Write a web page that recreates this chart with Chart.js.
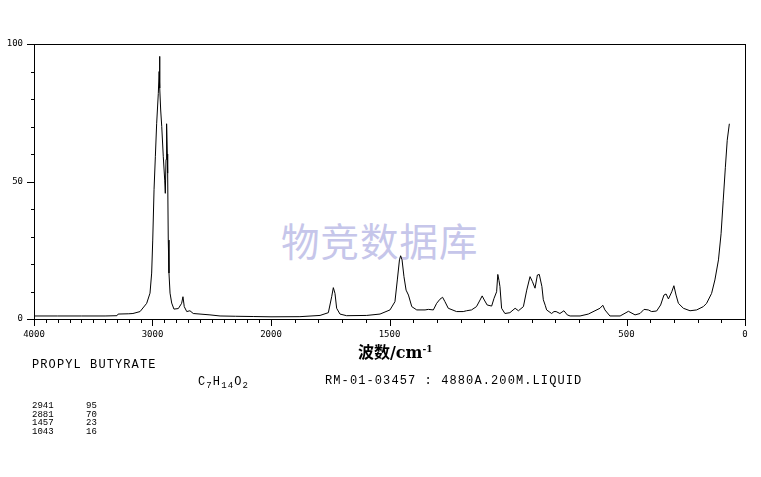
<!DOCTYPE html>
<html>
<head>
<meta charset="utf-8">
<script src="https://cdn.jsdelivr.net/npm/chart.js@4.4.1/dist/chart.umd.min.js"></script>
<style>
  html, body { margin: 0; padding: 0; background: #fff; }
  #wrap { position: relative; width: 761px; height: 477px; overflow: hidden; }
  #chart { position: absolute; left: 0; top: 0; z-index: 1; }
  .txt { position: absolute; z-index: 2; color: #000; white-space: pre; font-family: "Liberation Mono", "DejaVu Sans Mono", monospace; }
  #watermark { position: absolute; z-index: 0; left: 281px; top: 211px; font-family: "Noto Sans CJK SC", sans-serif; font-size: 38.5px; color: #c6c6ea; letter-spacing: 1px; }
  #xtitle { left: 358px; top: 339px; font-size: 16px; font-weight: bold; }
  #xtitle .cn { font-family: "Noto Sans CJK SC", sans-serif; }
  #xtitle .en { font-family: "DejaVu Serif", serif; }
  #xtitle sup { font-size: 9px; font-family: "DejaVu Serif", serif; }
  .big { font-size: 12px; letter-spacing: 1.1px; }
  .small { font-size: 9px; line-height: 8.6px; }
  sub { font-size: 9px; }
</style>
</head>
<body>
<div id="wrap">
  <div id="watermark">物竞数据库</div>
  <canvas id="chart" width="761" height="477"></canvas>
  <div class="txt" id="xtitle"><span class="cn">波数</span><span class="en">/cm</span><sup>-1</sup></div>
  <div class="txt big" style="left:32px; top:358px;">PROPYL BUTYRATE</div>
  <div class="txt big" style="left:198px; top:375px;">C<sub>7</sub>H<sub>14</sub>O<sub>2</sub></div>
  <div class="txt big" style="left:325px; top:374px;">RM-01-03457 : 4880A.200M.LIQUID</div>
  <div class="txt small" id="peaks" style="left:32px; top:402px;"></div>
</div>
<script>
// spectrum (wavenumber cm-1, intensity)
const wavenumbers = [
  4000, 3800, 3600, 3400, 3300, 3290, 3200, 3165, 3105, 3049, 3021, 3007, 2998, 2987, 2976, 2965, 2951, 2944, 2941, 2937,
  2931, 2922, 2909, 2897, 2892, 2886, 2881, 2875, 2872, 2867, 2861, 2852, 2838, 2819, 2782, 2754, 2743, 2732, 2711, 2684,
  2656, 2515, 2430, 2300, 2150, 2000, 1878, 1793, 1758, 1744, 1737, 1730, 1723, 1709, 1681, 1596, 1540, 1498, 1477, 1467,
  1458, 1453, 1447, 1439, 1430, 1420, 1406, 1385, 1350, 1336, 1315, 1301, 1287, 1276, 1266, 1252, 1217, 1189, 1175, 1154,
  1133, 1118, 1109, 1100, 1088, 1069, 1059, 1048, 1043, 1038, 1034, 1027, 1013, 992, 970, 956, 935, 921, 907, 897,
  886, 876, 868, 857, 851, 843, 837, 816, 806, 797, 781, 764, 750, 738, 696, 661, 633, 612, 600, 591,
  570, 527, 502, 492, 464, 443, 426, 408, 394, 373, 356, 342, 333, 323, 309, 300, 291, 281, 260, 232,
  204, 176, 162, 141, 127, 112, 101, 92, 83, 75, 66
];
const intensities = [
  1.1, 1.1, 1.1, 1.1, 1.2, 1.8, 1.9, 2.0, 2.7, 5.7, 9.4, 16.7, 28.7, 47, 59, 71, 82, 90, 95.5, 84,
  76, 70, 59, 50.5, 45.7, 58, 71, 60, 53, 28.7, 16.7, 9.4, 5.8, 3.6, 3.8, 5.7, 8.1, 4.5, 2.7, 3.0,
  2.0, 1.5, 1.1, 1.0, 0.9, 0.8, 0.85, 1.3, 2.3, 8.1, 11.4, 9.3, 3.9, 1.8, 1.2, 1.3, 1.8, 3.3, 6.3, 14.2,
  21.5, 23, 21.5, 15.4, 10.5, 8.7, 4.5, 3.3, 3.3, 3.5, 3.3, 5.7, 7.2, 7.9, 6.3, 3.9, 2.7, 2.7, 3.0, 3.3,
  4.5, 6.9, 8.4, 6.9, 5.1, 4.7, 7.5, 9.9, 16.2, 14, 11.8, 3.9, 2.0, 2.3, 3.9, 3.0, 4.5, 10.5, 15.4, 13.6,
  11.2, 16, 16.2, 11.8, 7, 5, 3.3, 2.0, 2.7, 2.7, 2.0, 3.0, 1.5, 1.1, 1.1, 1.8, 3.0, 3.9, 5.0, 3.3,
  1.1, 1.1, 2.3, 2.8, 1.5, 2.0, 3.5, 3.3, 2.7, 2.9, 5.1, 8.7, 9.1, 7.3, 9.9, 12.1, 8.7, 5.7, 3.9, 3.0,
  3.3, 4.5, 5.7, 9.3, 14.2, 21.5, 31, 43, 55, 65, 71
];
const xLabels = [4000, 3000, 2000, 1500, 500, 0];
const yLabels = [0, 50, 100];
const peakPos = [2941, 2881, 1457, 1043];
const peakVal = [95, 70, 23, 16];

// axis is compressed by half above 2000 cm-1
function toAxis(w) { return w <= 2000 ? w : 2000 + (w - 2000) / 2; }
function fromAxis(u) { return u <= 2000 ? u : 2000 + (u - 2000) * 2; }

document.getElementById("peaks").textContent = peakPos
  .map((p, i) => String(p).padEnd(10) + peakVal[i]).join("\n");

const points = wavenumbers.map((w, i) => ({ x: toAxis(w), y: intensities[i] }));

// box + tick marks (long ones at labelled values)
const frame = {
  id: "frame",
  afterDraw(chart) {
    const { ctx, chartArea: a, scales } = chart;
    ctx.save();
    ctx.strokeStyle = "#000";
    ctx.lineWidth = 1;
    ctx.strokeRect(Math.round(a.left) + 0.5, Math.round(a.top) + 0.5,
      Math.round(a.right - a.left), Math.round(a.bottom - a.top));
    ctx.beginPath();
    for (let w = 0; w <= 4000; w += 100) {
      const px = Math.round(scales.x.getPixelForValue(toAxis(w))) + 0.5;
      const len = xLabels.includes(w) ? 7 : 4;
      ctx.moveTo(px, Math.round(a.bottom));
      ctx.lineTo(px, Math.round(a.bottom) + len);
    }
    for (let v = 0; v <= 100; v += 10) {
      const py = Math.round(scales.y.getPixelForValue(v)) + 0.5;
      const len = yLabels.includes(v) ? 7 : 3;
      ctx.moveTo(Math.round(a.left), py);
      ctx.lineTo(Math.round(a.left) - len, py);
    }
    ctx.stroke();
    ctx.restore();
  }
};

new Chart(document.getElementById("chart"), {
  type: "scatter",
  data: {
    datasets: [{
      data: points,
      showLine: true,
      borderColor: "#000",
      borderWidth: 1,
      pointRadius: 0,
      tension: 0,
      fill: false
    }]
  },
  options: {
    responsive: false,
    animation: false,
    devicePixelRatio: 1,
    layout: { padding: { left: 0, top: 44, right: 16, bottom: 128 } },
    plugins: { legend: { display: false }, tooltip: { enabled: false } },
    scales: {
      x: {
        type: "linear",
        reverse: true,
        min: 0,
        max: 3000,
        grid: { display: false },
        border: { display: false },
        afterFit: (s) => { s.height = 30; },
        afterBuildTicks: (s) => {
          const t = [];
          for (let w = 0; w <= 4000; w += 100) t.push({ value: toAxis(w) });
          s.ticks = t;
        },
        ticks: {
          autoSkip: false,
          maxRotation: 0,
          padding: 2,
          color: "#000",
          font: { family: "DejaVu Sans Mono", size: 9 },
          callback: (u) => {
            const w = Math.round(fromAxis(u));
            return xLabels.includes(w) ? String(w) : "";
          }
        }
      },
      y: {
        min: 0,
        max: 100,
        grid: { display: false },
        border: { display: false },
        afterFit: (s) => { s.width = 34; },
        afterBuildTicks: (s) => {
          const t = [];
          for (let v = 0; v <= 100; v += 10) t.push({ value: v });
          s.ticks = t;
        },
        ticks: {
          autoSkip: false,
          padding: 3,
          color: "#000",
          font: { family: "DejaVu Sans Mono", size: 9 },
          callback: (v) => yLabels.includes(v) ? String(v) : ""
        }
      }
    }
  },
  plugins: [frame]
});
</script>
</body>
</html>
